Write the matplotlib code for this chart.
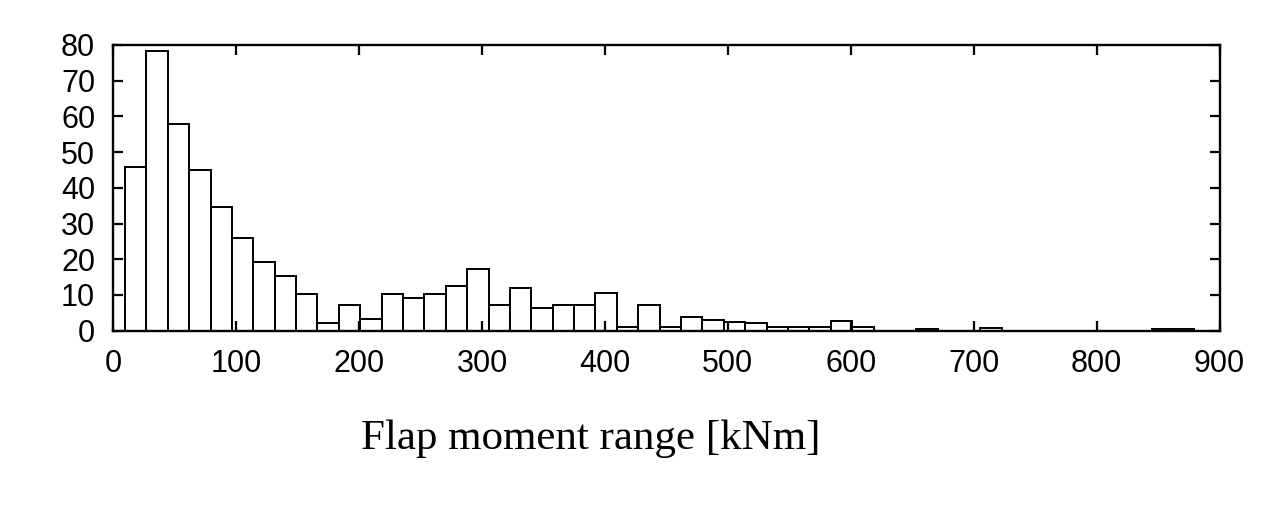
import numpy as np
import matplotlib
matplotlib.use("Agg")
from matplotlib import pyplot as plt

# histogram of flap moment ranges
bin_start = 9.5
bin_width = 17.4
counts = [45.7, 78.2, 58.0, 45.0, 34.7, 26.0, 19.3, 15.3, 10.3, 2.2,
          7.1, 3.2, 10.3, 9.1, 10.4, 12.6, 17.2, 7.1, 12.0, 6.4,
          7.1, 7.1, 10.5, 1.0, 7.1, 1.0, 3.9, 3.1, 2.3, 2.2,
          0.9, 0.9, 0.9, 2.7, 1.1, 0.0, 0.0, 0.5, 0.0, 0.0,
          0.8, 0.0, 0.0, 0.0, 0.0, 0.0, 0.0, 0.0, 0.4, 0.4]
xticks = [0, 100, 200, 300, 400, 500, 600, 700, 800, 900]
yticks = [0, 10, 20, 30, 40, 50, 60, 70, 80]
xlabel = "Flap moment range [kNm]"

counts = np.array(counts)
lefts = bin_start + bin_width * np.arange(len(counts))

fig = plt.figure(figsize=(12.73, 5.23), dpi=100)
ax = fig.add_axes([0.089, 0.3677, 0.869, 0.5463])

ax.bar(lefts, counts, width=bin_width, align='edge', color='white',
       edgecolor='black', linewidth=1.4)

ax.set_xlim(0, 900)
ax.set_ylim(0, 80)
ax.set_xticks(xticks)
ax.set_yticks(yticks)
ax.tick_params(direction='in', length=7, width=1.6, top=True, right=True,
               labelsize=22, pad=13)
for lab in ax.get_xticklabels() + ax.get_yticklabels():
    lab.set_family(['Liberation Sans', 'DejaVu Sans'])
for s in ax.spines.values():
    s.set_linewidth(1.7)

# label sits left of the axes centre in the original
ax.set_xlabel(xlabel, fontsize=31, family=['Liberation Serif', 'DejaVu Serif'])
ax.xaxis.set_label_coords(0.432, -0.312)

fig.savefig("out.png", dpi=100)
